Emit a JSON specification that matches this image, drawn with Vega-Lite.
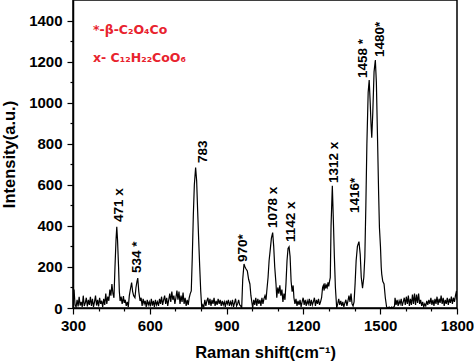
{
  "$schema": "https://vega.github.io/schema/vega-lite/v6.json",
  "width": 384,
  "height": 308,
  "autosize": {"type": "none"},
  "padding": {"left": 73, "top": 0, "right": 17, "bottom": 54},
  "background": "white",
  "config": {
    "view": {"stroke": "black", "strokeWidth": 1.5},
    "axis": {
      "domainColor": "black", "domainWidth": 1.5,
      "tickColor": "black", "tickWidth": 1.2,
      "labelColor": "black", "titleColor": "black",
      "labelFont": "Liberation Sans", "titleFont": "Liberation Sans",
      "labelFontWeight": "bold", "titleFontWeight": "bold",
      "labelFontSize": 15, "titleFontSize": 16.5,
      "grid": false, "labelOverlap": false
    }
  },
  "resolve": {"axis": {"x": "independent", "y": "independent"}},
  "datasets": {
    "spectrum": [
      {"shift":300,"intensity":10},{"shift":304,"intensity":90},{"shift":308,"intensity":15},{"shift":312,"intensity":5},{"shift":316,"intensity":40},{"shift":320,"intensity":8},{"shift":324,"intensity":55},{"shift":328,"intensity":12},{"shift":332,"intensity":30},{"shift":336,"intensity":5},{"shift":340,"intensity":60},{"shift":344,"intensity":10},{"shift":348,"intensity":25},{"shift":352,"intensity":50},{"shift":356,"intensity":8},{"shift":360,"intensity":40},{"shift":364,"intensity":15},{"shift":368,"intensity":55},{"shift":372,"intensity":10},{"shift":376,"intensity":45},{"shift":380,"intensity":5},{"shift":384,"intensity":30},{"shift":388,"intensity":60},{"shift":392,"intensity":12},{"shift":396,"intensity":40},{"shift":400,"intensity":8},{"shift":404,"intensity":50},{"shift":408,"intensity":20},{"shift":412,"intensity":35},{"shift":416,"intensity":5},{"shift":420,"intensity":45},{"shift":424,"intensity":15},{"shift":428,"intensity":70},{"shift":432,"intensity":20},{"shift":436,"intensity":55},{"shift":440,"intensity":35},{"shift":444,"intensity":90},{"shift":448,"intensity":60},{"shift":452,"intensity":117},{"shift":456,"intensity":70},{"shift":460,"intensity":50},{"shift":464,"intensity":200},{"shift":468,"intensity":330},{"shift":471,"intensity":395},{"shift":474,"intensity":330},{"shift":478,"intensity":200},{"shift":481,"intensity":80},{"shift":484,"intensity":34},{"shift":488,"intensity":55},{"shift":492,"intensity":20},{"shift":497,"intensity":58},{"shift":500,"intensity":25},{"shift":504,"intensity":40},{"shift":508,"intensity":10},{"shift":512,"intensity":30},{"shift":516,"intensity":5},{"shift":520,"intensity":60},{"shift":524,"intensity":90},{"shift":529,"intensity":124},{"shift":533,"intensity":80},{"shift":537,"intensity":60},{"shift":542,"intensity":50},{"shift":546,"intensity":100},{"shift":550,"intensity":130},{"shift":553,"intensity":146},{"shift":557,"intensity":80},{"shift":562,"intensity":34},{"shift":566,"intensity":50},{"shift":570,"intensity":10},{"shift":574,"intensity":45},{"shift":578,"intensity":20},{"shift":582,"intensity":35},{"shift":586,"intensity":5},{"shift":590,"intensity":40},{"shift":594,"intensity":15},{"shift":598,"intensity":30},{"shift":602,"intensity":8},{"shift":606,"intensity":45},{"shift":610,"intensity":12},{"shift":614,"intensity":35},{"shift":618,"intensity":5},{"shift":622,"intensity":40},{"shift":626,"intensity":15},{"shift":630,"intensity":30},{"shift":634,"intensity":10},{"shift":638,"intensity":45},{"shift":642,"intensity":20},{"shift":646,"intensity":55},{"shift":650,"intensity":15},{"shift":654,"intensity":40},{"shift":658,"intensity":60},{"shift":662,"intensity":20},{"shift":666,"intensity":50},{"shift":670,"intensity":10},{"shift":674,"intensity":40},{"shift":678,"intensity":70},{"shift":682,"intensity":30},{"shift":686,"intensity":80},{"shift":690,"intensity":40},{"shift":694,"intensity":60},{"shift":698,"intensity":20},{"shift":702,"intensity":50},{"shift":706,"intensity":85},{"shift":710,"intensity":40},{"shift":714,"intensity":80},{"shift":718,"intensity":20},{"shift":722,"intensity":60},{"shift":726,"intensity":30},{"shift":730,"intensity":75},{"shift":734,"intensity":20},{"shift":738,"intensity":50},{"shift":742,"intensity":10},{"shift":746,"intensity":40},{"shift":750,"intensity":15},{"shift":754,"intensity":50},{"shift":758,"intensity":70},{"shift":762,"intensity":83},{"shift":766,"intensity":250},{"shift":770,"intensity":450},{"shift":774,"intensity":600},{"shift":779,"intensity":684},{"shift":783,"intensity":620},{"shift":787,"intensity":470},{"shift":791,"intensity":330},{"shift":795,"intensity":200},{"shift":799,"intensity":80},{"shift":803,"intensity":0},{"shift":807,"intensity":15},{"shift":811,"intensity":5},{"shift":815,"intensity":40},{"shift":819,"intensity":10},{"shift":823,"intensity":35},{"shift":827,"intensity":50},{"shift":831,"intensity":15},{"shift":835,"intensity":45},{"shift":839,"intensity":10},{"shift":843,"intensity":40},{"shift":847,"intensity":20},{"shift":851,"intensity":50},{"shift":855,"intensity":10},{"shift":859,"intensity":35},{"shift":863,"intensity":15},{"shift":867,"intensity":45},{"shift":871,"intensity":20},{"shift":875,"intensity":40},{"shift":879,"intensity":10},{"shift":883,"intensity":35},{"shift":887,"intensity":15},{"shift":891,"intensity":30},{"shift":895,"intensity":5},{"shift":899,"intensity":35},{"shift":903,"intensity":20},{"shift":907,"intensity":40},{"shift":911,"intensity":10},{"shift":915,"intensity":30},{"shift":919,"intensity":15},{"shift":923,"intensity":40},{"shift":927,"intensity":5},{"shift":931,"intensity":25},{"shift":935,"intensity":45},{"shift":939,"intensity":10},{"shift":943,"intensity":20},{"shift":947,"intensity":40},{"shift":951,"intensity":15},{"shift":955,"intensity":10},{"shift":959,"intensity":0},{"shift":963,"intensity":140},{"shift":968,"intensity":214},{"shift":972,"intensity":200},{"shift":976,"intensity":190},{"shift":981,"intensity":180},{"shift":986,"intensity":140},{"shift":991,"intensity":117},{"shift":995,"intensity":60},{"shift":1002,"intensity":0},{"shift":1006,"intensity":40},{"shift":1010,"intensity":15},{"shift":1014,"intensity":50},{"shift":1018,"intensity":10},{"shift":1022,"intensity":45},{"shift":1026,"intensity":20},{"shift":1030,"intensity":40},{"shift":1034,"intensity":10},{"shift":1038,"intensity":50},{"shift":1042,"intensity":20},{"shift":1046,"intensity":45},{"shift":1050,"intensity":60},{"shift":1054,"intensity":40},{"shift":1057,"intensity":83},{"shift":1062,"intensity":150},{"shift":1066,"intensity":230},{"shift":1070,"intensity":278},{"shift":1075,"intensity":340},{"shift":1080,"intensity":367},{"shift":1084,"intensity":300},{"shift":1088,"intensity":200},{"shift":1093,"intensity":117},{"shift":1096,"intensity":50},{"shift":1100,"intensity":100},{"shift":1104,"intensity":70},{"shift":1108,"intensity":110},{"shift":1112,"intensity":60},{"shift":1116,"intensity":90},{"shift":1120,"intensity":30},{"shift":1124,"intensity":70},{"shift":1128,"intensity":40},{"shift":1132,"intensity":120},{"shift":1136,"intensity":230},{"shift":1140,"intensity":290},{"shift":1144,"intensity":298},{"shift":1148,"intensity":250},{"shift":1152,"intensity":130},{"shift":1156,"intensity":80},{"shift":1160,"intensity":110},{"shift":1163,"intensity":50},{"shift":1167,"intensity":20},{"shift":1171,"intensity":45},{"shift":1175,"intensity":10},{"shift":1179,"intensity":35},{"shift":1183,"intensity":15},{"shift":1187,"intensity":40},{"shift":1191,"intensity":5},{"shift":1195,"intensity":30},{"shift":1199,"intensity":50},{"shift":1203,"intensity":15},{"shift":1207,"intensity":40},{"shift":1211,"intensity":10},{"shift":1215,"intensity":35},{"shift":1219,"intensity":20},{"shift":1223,"intensity":45},{"shift":1227,"intensity":10},{"shift":1231,"intensity":40},{"shift":1235,"intensity":15},{"shift":1239,"intensity":30},{"shift":1243,"intensity":50},{"shift":1247,"intensity":10},{"shift":1251,"intensity":40},{"shift":1255,"intensity":20},{"shift":1259,"intensity":45},{"shift":1263,"intensity":15},{"shift":1267,"intensity":30},{"shift":1271,"intensity":50},{"shift":1275,"intensity":100},{"shift":1278,"intensity":110},{"shift":1281,"intensity":85},{"shift":1284,"intensity":120},{"shift":1287,"intensity":95},{"shift":1290,"intensity":110},{"shift":1293,"intensity":100},{"shift":1296,"intensity":125},{"shift":1299,"intensity":105},{"shift":1302,"intensity":130},{"shift":1305,"intensity":148},{"shift":1308,"intensity":400},{"shift":1313,"intensity":595},{"shift":1317,"intensity":430},{"shift":1321,"intensity":250},{"shift":1325,"intensity":100},{"shift":1330,"intensity":0},{"shift":1334,"intensity":20},{"shift":1338,"intensity":45},{"shift":1342,"intensity":15},{"shift":1346,"intensity":35},{"shift":1350,"intensity":10},{"shift":1354,"intensity":30},{"shift":1358,"intensity":5},{"shift":1362,"intensity":25},{"shift":1366,"intensity":40},{"shift":1370,"intensity":10},{"shift":1374,"intensity":35},{"shift":1378,"intensity":60},{"shift":1382,"intensity":30},{"shift":1386,"intensity":70},{"shift":1390,"intensity":20},{"shift":1394,"intensity":10},{"shift":1398,"intensity":30},{"shift":1402,"intensity":120},{"shift":1406,"intensity":230},{"shift":1411,"intensity":300},{"shift":1417,"intensity":323},{"shift":1422,"intensity":260},{"shift":1426,"intensity":150},{"shift":1431,"intensity":97},{"shift":1436,"intensity":150},{"shift":1440,"intensity":250},{"shift":1444,"intensity":500},{"shift":1448,"intensity":800},{"shift":1453,"intensity":1050},{"shift":1457,"intensity":1110},{"shift":1461,"intensity":1000},{"shift":1464,"intensity":900},{"shift":1467,"intensity":829},{"shift":1471,"intensity":950},{"shift":1476,"intensity":1150},{"shift":1481,"intensity":1208},{"shift":1485,"intensity":1100},{"shift":1490,"intensity":800},{"shift":1494,"intensity":550},{"shift":1497,"intensity":392},{"shift":1501,"intensity":300},{"shift":1504,"intensity":200},{"shift":1506,"intensity":165},{"shift":1510,"intensity":130},{"shift":1515,"intensity":117},{"shift":1520,"intensity":50},{"shift":1525,"intensity":5},{"shift":1530,"intensity":0},{"shift":1535,"intensity":5},{"shift":1540,"intensity":0},{"shift":1545,"intensity":5},{"shift":1550,"intensity":0},{"shift":1556,"intensity":10},{"shift":1558,"intensity":50},{"shift":1562,"intensity":15},{"shift":1566,"intensity":40},{"shift":1570,"intensity":10},{"shift":1574,"intensity":35},{"shift":1578,"intensity":20},{"shift":1582,"intensity":45},{"shift":1586,"intensity":10},{"shift":1590,"intensity":30},{"shift":1594,"intensity":50},{"shift":1598,"intensity":15},{"shift":1602,"intensity":55},{"shift":1606,"intensity":20},{"shift":1610,"intensity":60},{"shift":1614,"intensity":10},{"shift":1618,"intensity":45},{"shift":1622,"intensity":15},{"shift":1626,"intensity":65},{"shift":1630,"intensity":20},{"shift":1634,"intensity":70},{"shift":1638,"intensity":15},{"shift":1642,"intensity":65},{"shift":1646,"intensity":25},{"shift":1650,"intensity":70},{"shift":1654,"intensity":20},{"shift":1658,"intensity":40},{"shift":1662,"intensity":10},{"shift":1666,"intensity":30},{"shift":1670,"intensity":5},{"shift":1674,"intensity":20},{"shift":1678,"intensity":10},{"shift":1682,"intensity":35},{"shift":1686,"intensity":15},{"shift":1690,"intensity":40},{"shift":1694,"intensity":20},{"shift":1698,"intensity":50},{"shift":1702,"intensity":15},{"shift":1706,"intensity":40},{"shift":1710,"intensity":10},{"shift":1714,"intensity":45},{"shift":1718,"intensity":20},{"shift":1722,"intensity":55},{"shift":1726,"intensity":15},{"shift":1730,"intensity":45},{"shift":1734,"intensity":25},{"shift":1738,"intensity":60},{"shift":1742,"intensity":20},{"shift":1746,"intensity":50},{"shift":1750,"intensity":10},{"shift":1754,"intensity":40},{"shift":1758,"intensity":20},{"shift":1762,"intensity":50},{"shift":1766,"intensity":15},{"shift":1770,"intensity":45},{"shift":1774,"intensity":25},{"shift":1778,"intensity":55},{"shift":1782,"intensity":20},{"shift":1786,"intensity":50},{"shift":1790,"intensity":30},{"shift":1794,"intensity":60},{"shift":1798,"intensity":83},{"shift":1800,"intensity":40}
    ],
    "peaks": [
      {"shift":478,"intensity":419,"label":"471  x"},
      {"shift":550,"intensity":170,"label":"534  *"},
      {"shift":806,"intensity":706,"label":"783"},
      {"shift":964,"intensity":224,"label":"970*"},
      {"shift":1081,"intensity":390,"label":"1078 x"},
      {"shift":1150,"intensity":321,"label":"1142 x"},
      {"shift":1319,"intensity":609,"label":"1312 x"},
      {"shift":1403,"intensity":463,"label":"1416*"},
      {"shift":1431,"intensity":1120,"label":"1458 *"},
      {"shift":1501,"intensity":1222,"label":"1480*"}
    ],
    "legend": [
      {"shift":378,"intensity":1354,"label":"*-β-C₂O₄Co"},
      {"shift":378,"intensity":1218,"label":"x- C₁₂H₂₂CoO₆"}
    ]
  },
  "layer": [
    {
      "data": {"name": "spectrum"},
      "mark": {"type": "line", "color": "black", "strokeWidth": 1.2, "clip": true},
      "encoding": {
        "x": {
          "field": "shift", "type": "quantitative",
          "scale": {"domain": [300, 1800], "nice": false},
          "axis": {
            "orient": "bottom",
            "title": "Raman shift(cm⁻¹)",
            "values": [300,600,900,1200,1500,1800],
            "format": "d",
            "tickSize": 6,
            "labelOverlap": false,
            "labelFlush": false,
            "labelBound": false,
            "labelPadding": 4,
            "titlePadding": 11
          }
        },
        "y": {
          "field": "intensity", "type": "quantitative",
          "scale": {"domain": [0, 1500], "nice": false},
          "axis": {
            "orient": "left",
            "title": "Intensity(a.u.)",
            "values": [0,200,400,600,800,1000,1200,1400],
            "format": "d",
            "tickSize": 6,
            "labelOverlap": false,
            "labelPadding": 5,
            "titlePadding": 11
          }
        }
      }
    },
    {
      "data": {"name": "legend"},
      "mark": {"type": "point", "opacity": 0},
      "encoding": {
        "x": {
          "field": "shift", "type": "quantitative",
          "scale": {"domain": [300, 1800], "nice": false},
          "axis": {
            "orient": "bottom",
            "title": null,
            "values": [400,500,700,800,1000,1100,1300,1400,1600,1700],
            "labels": false,
            "domain": false,
            "tickSize": 3
          }
        },
        "y": {
          "field": "intensity", "type": "quantitative",
          "scale": {"domain": [0, 1500], "nice": false},
          "axis": {
            "orient": "left",
            "title": null,
            "values": [100,300,500,700,900,1100,1300],
            "labels": false,
            "domain": false,
            "tickSize": 3
          }
        }
      }
    },
    {
      "data": {"name": "peaks"},
      "mark": {"type": "text", "angle": 270, "align": "left", "baseline": "middle", "font": "Liberation Sans", "fontWeight": "bold", "fontSize": 13.5, "color": "black"},
      "encoding": {
        "x": {"field": "shift", "type": "quantitative", "axis": null},
        "y": {"field": "intensity", "type": "quantitative", "axis": null},
        "text": {"field": "label", "type": "nominal"}
      }
    },
    {
      "data": {"name": "legend"},
      "mark": {"type": "text", "align": "left", "baseline": "middle", "font": "DejaVu Sans", "fontWeight": "bold", "fontSize": 12.5, "color": "#e8232e"},
      "encoding": {
        "x": {"field": "shift", "type": "quantitative", "axis": null},
        "y": {"field": "intensity", "type": "quantitative", "axis": null},
        "text": {"field": "label", "type": "nominal"}
      }
    }
  ]
}
